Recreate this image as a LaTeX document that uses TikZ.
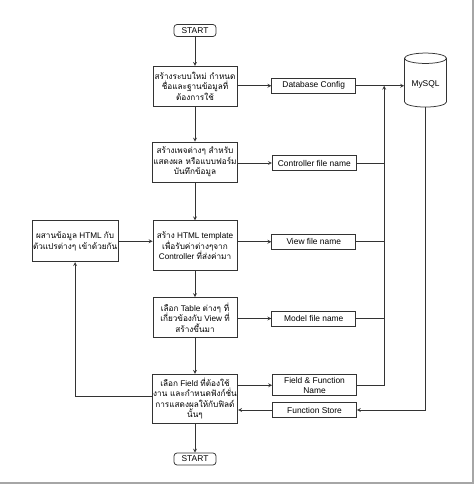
\documentclass[tikz,border=0pt]{standalone}
\usepackage{fontspec}
\setmainfont{Liberation Sans}
\newfontfamily\thaifont[Script=Thai]{Loma}
\newcommand{\thtxt}[1]{{\thaifont #1}}
\usepackage{tikz}
\usetikzlibrary{shapes.geometric, arrows, positioning}
\tikzstyle{startstop} = [rectangle, rounded corners=3pt, minimum width=42pt, minimum height=12pt, inner sep=1pt, text centered, draw = black!80, font=\fontsize{8.4}{9}\selectfont]
\tikzstyle{process} = [rectangle, minimum width=84pt, minimum height=40pt, inner sep=1pt, align=center, draw = black!80, font=\fontsize{8.2}{10.5}\selectfont]
\tikzstyle{data} = [rectangle, minimum width=84pt, minimum height=15pt, inner sep=1pt, align=center, draw = black!80, font=\fontsize{8.4}{9.5}\selectfont]
\tikzstyle{db} = [cylinder, shape border rotate=90, aspect=0.3, minimum width=42pt, minimum height=54pt, draw = black!80, font=\fontsize{8.4}{9}\selectfont]
\tikzstyle{arrow} = [->,>=stealth]

\begin{document}
\begin{tikzpicture}[line width=0.75pt, draw=black!80]
	\useasboundingbox (0,0) rectangle (474pt,-484pt);
	\draw [gray!70, line width=2pt] (473pt,0) -- (473pt,-483pt) -- (0,-483pt);

	\node (start) [startstop] at (195pt,-30.5pt) {START};
	\node (b1) [process, below=29pt of start] {\thtxt{สร้างระบบใหม่ กำหนด}\\ \thtxt{ชื่อและฐานข้อมูลที่}\\ \thtxt{ต้องการใช้}};
	\node (b2) [process, below=35pt of b1] {\thtxt{สร้างเพจต่างๆ สำหรับ}\\ \thtxt{แสดงผล หรือแบบฟอร์ม}\\ \thtxt{บันทึกข้อมูล}};
	\node (b3) [process, below=38pt of b2, minimum height=50pt] {\thtxt{สร้าง} HTML template\\ \thtxt{เพื่อรับค่าต่างๆจาก}\\ Controller \thtxt{ที่ส่งค่ามา}};
	\node (b4) [process, below=26pt of b3] {\thtxt{เลือก} Table \thtxt{ต่างๆ ที่}\\ \thtxt{เกี่ยวข้องกับ} View \thtxt{ที่}\\ \thtxt{สร้างขึ้นมา}};
	\node (b5) [process, below=36pt of b4, minimum height=49pt] {\thtxt{เลือก} Field \thtxt{ที่ต้องใช้}\\ \thtxt{งาน และกำหนดฟังก์ชั่น}\\ \thtxt{การแสดงผลให้กับฟิลด์}\\ \thtxt{นั้นๆ}};
	\node (stop) [startstop, below=29pt of b5] {START};
	\node (merge) [process, left=34pt of b3.north west, anchor=north east, minimum height=41pt] {\thtxt{ผสานข้อมูล} HTML \thtxt{กับ}\\ \thtxt{ตัวแปรต่างๆ เข้าด้วยกัน}};

	\node (dbconf) [data, right=34pt of b1, yshift=0.5pt] {Database Config};
	\node (ctrl) [data, right=34pt of b2, yshift=-1pt] {Controller file name};
	\node (view) [data, right=34pt of b3, yshift=4pt] {View file name};
	\node (model) [data, right=34pt of b4, yshift=-1pt] {Model file name};
	\node (fieldname) [data, right=34pt of b5, yshift=13.5pt, minimum height=21pt] {Field \& Function\\ Name};
	\node (funcstore) [data, below=6pt of fieldname] {Function Store};
	\node (mysql) [db, right=48pt of dbconf, yshift=1.5pt] {MySQL};
	\coordinate [right=28pt of dbconf.east] (bus);

	\draw [arrow](start) -- (b1);
	\draw [arrow](b1) -- (b2);
	\draw [arrow](b2) -- (b3);
	\draw [arrow](b3) -- (b4);
	\draw [arrow](b4) -- (b5);
	\draw [arrow](b5) -- (stop);

	\draw [arrow](b1.east |- dbconf) -- (dbconf);
	\draw [arrow](b2.east |- ctrl) -- (ctrl);
	\draw [arrow](b3.east |- view) -- (view);
	\draw [arrow](b4.east |- model) -- (model);
	\draw [arrow](b5.east |- fieldname) -- (fieldname);
	\draw [arrow](funcstore) -- (funcstore -| b5.east);

	\draw [arrow](dbconf) -- (dbconf -| mysql.west);
	\draw [arrow](fieldname.east) -| (bus);
	\draw (ctrl.east) -- (ctrl.east -| bus);
	\draw (view.east) -- (view.east -| bus);
	\draw (model.east) -- (model.east -| bus);
	\draw [arrow](mysql.south) |- (funcstore.east);

	\draw [arrow]([yshift=2.5pt]b5.west) -| (merge.south);
	\draw [arrow](merge.east) -- (merge.east -| b3.west);
\end{tikzpicture}
\end{document}
